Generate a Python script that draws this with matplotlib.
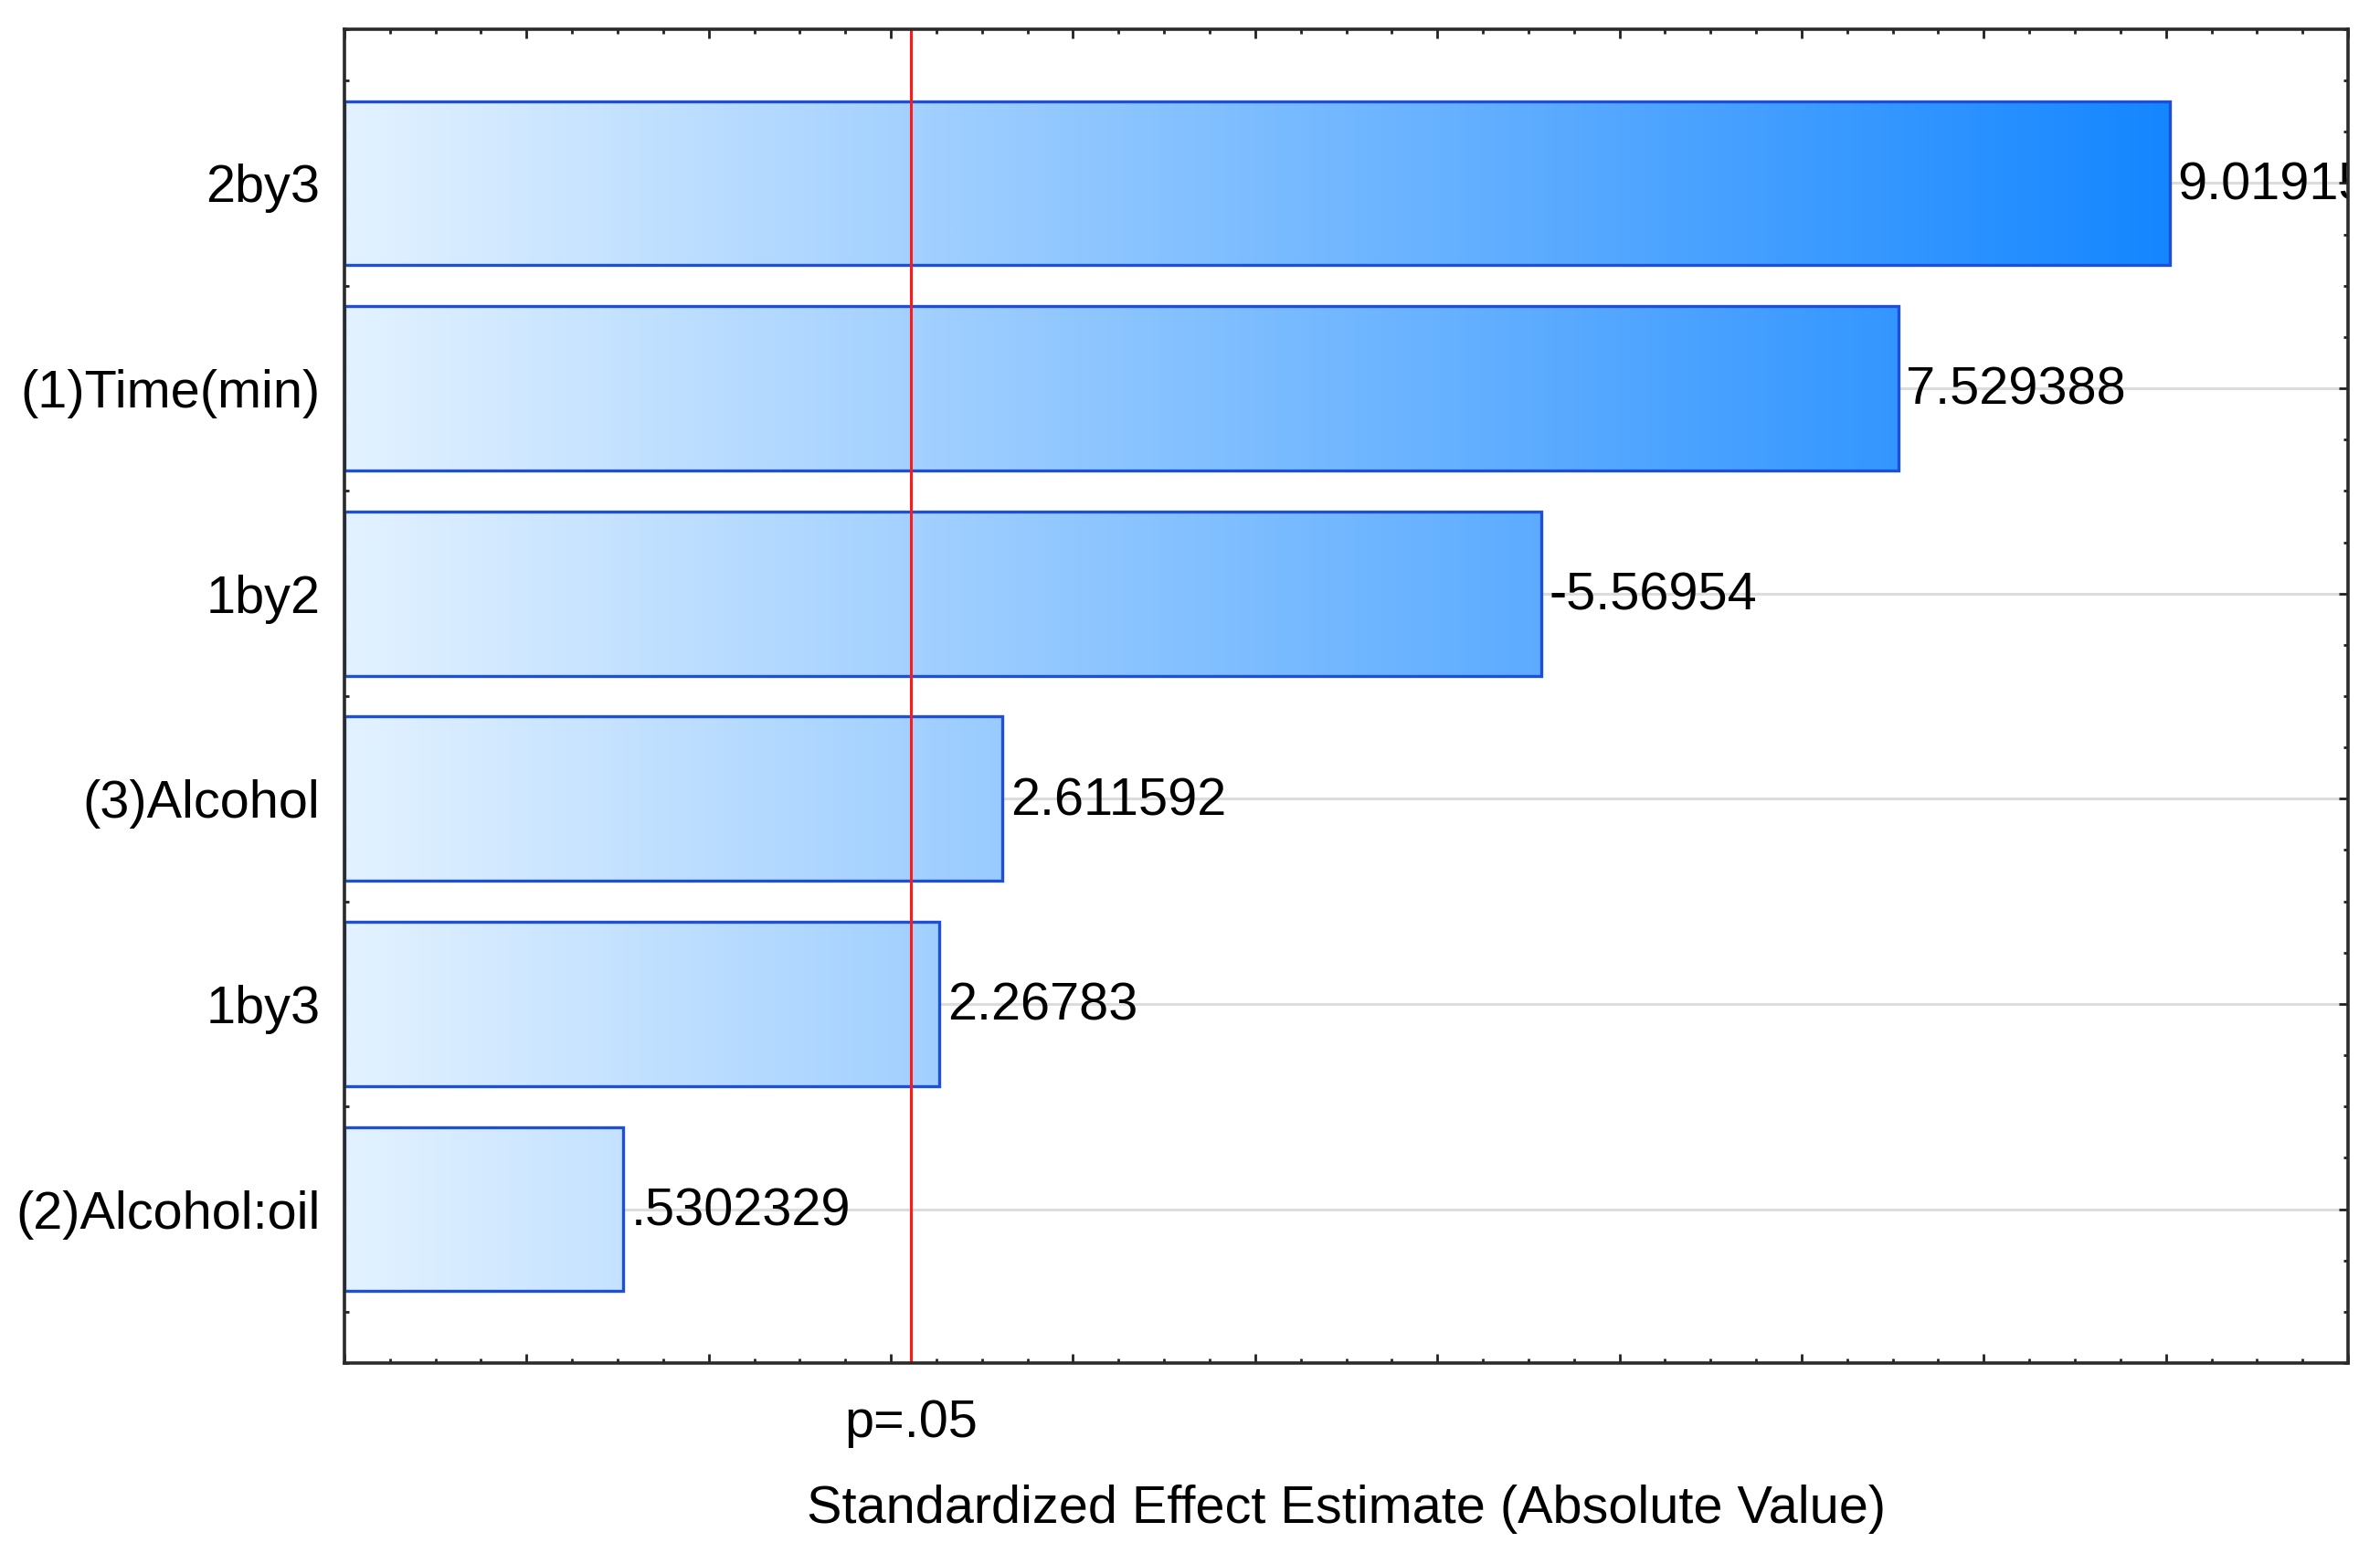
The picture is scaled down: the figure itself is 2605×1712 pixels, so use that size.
import numpy as np
import matplotlib
matplotlib.use("Agg")
import matplotlib.pyplot as plt
from matplotlib.ticker import MultipleLocator, NullFormatter
from matplotlib.colors import LinearSegmentedColormap, Normalize

# ---- data ----
categories = ["2by3", "(1)Time(min)", "1by2", "(3)Alcohol", "1by3", "(2)Alcohol:oil"]
effects = [9.019155, 7.529388, -5.56954, 2.611592, 2.26783, 0.5302329]
effect_labels = ["9.019155", "7.529388", "-5.56954", "2.611592", "2.26783", ".5302329"]
p_crit = 2.1098
p_label = "p=.05"
x_title = "Standardized Effect Estimate (Absolute Value)"

plt.rcParams['font.family'] = ['Liberation Sans', 'DejaVu Sans']
FS = 41.5

fig = plt.figure(figsize=(26.05, 17.12), dpi=100)
ax = fig.add_axes([0.1447, 0.1285, 0.9866 - 0.1447, 0.9813 - 0.1285])

xmin, xmax = -1.0, 10.0
abs_eff = np.abs(np.array(effects))
ypos = np.arange(len(categories))

cmap = LinearSegmentedColormap.from_list("g", [(227/255, 242/255, 255/255), (20/255, 134/255, 255/255)])
gx = np.linspace(xmin, xmax, 1100).reshape(1, -1)
norm = Normalize(vmin=-1.0, vmax=9.05, clip=True)

bars = ax.barh(ypos, abs_eff - xmin, left=xmin, height=0.8, facecolor='none',
               edgecolor='#1D50D6', linewidth=2.4, zorder=3)
for b in bars:
    im = ax.imshow(gx, extent=[xmin, xmax, 6, -1], aspect='auto', cmap=cmap, norm=norm,
                   interpolation='bilinear', zorder=2)
    im.set_clip_path(b)

for yv, v, lab in zip(ypos, abs_eff, effect_labels):
    ax.text(v + 0.045, yv + 0.012, lab, fontsize=FS, va='center', ha='left', color='black',
            zorder=5, clip_on=True)

ax.axvline(p_crit, color='#FF1A1A', lw=2.2, zorder=4)

ax.set_xlim(xmin, xmax)
ax.set_ylim(5.75, -0.75)

ax.set_yticks(ypos)
ax.set_yticklabels(categories, fontsize=FS)
ax.yaxis.set_minor_locator(MultipleLocator(0.25))
ax.xaxis.set_major_locator(MultipleLocator(1))
ax.xaxis.set_minor_locator(MultipleLocator(0.25))
ax.xaxis.set_major_formatter(NullFormatter())

ax.tick_params(which='both', direction='in', top=True, right=True, color='#222222')
ax.tick_params(which='major', length=7.5, width=2.0)
ax.tick_params(which='minor', length=3.8, width=2.0)
ax.tick_params(axis='y', which='major', pad=19, labelsize=FS)

ax.grid(axis='y', which='major', color='#DCDCDC', lw=2.2, zorder=0)
ax.set_axisbelow(True)

for s in ax.spines.values():
    s.set_linewidth(2.6)
    s.set_color('#2a2a2a')
    s.set_zorder(6)

ax.text(p_crit, -0.027, p_label, transform=ax.get_xaxis_transform(), fontsize=FS,
        ha='center', va='top')
ax.set_xlabel(x_title, fontsize=FS, labelpad=92)

fig.savefig("out.png", dpi=100, facecolor='white')
